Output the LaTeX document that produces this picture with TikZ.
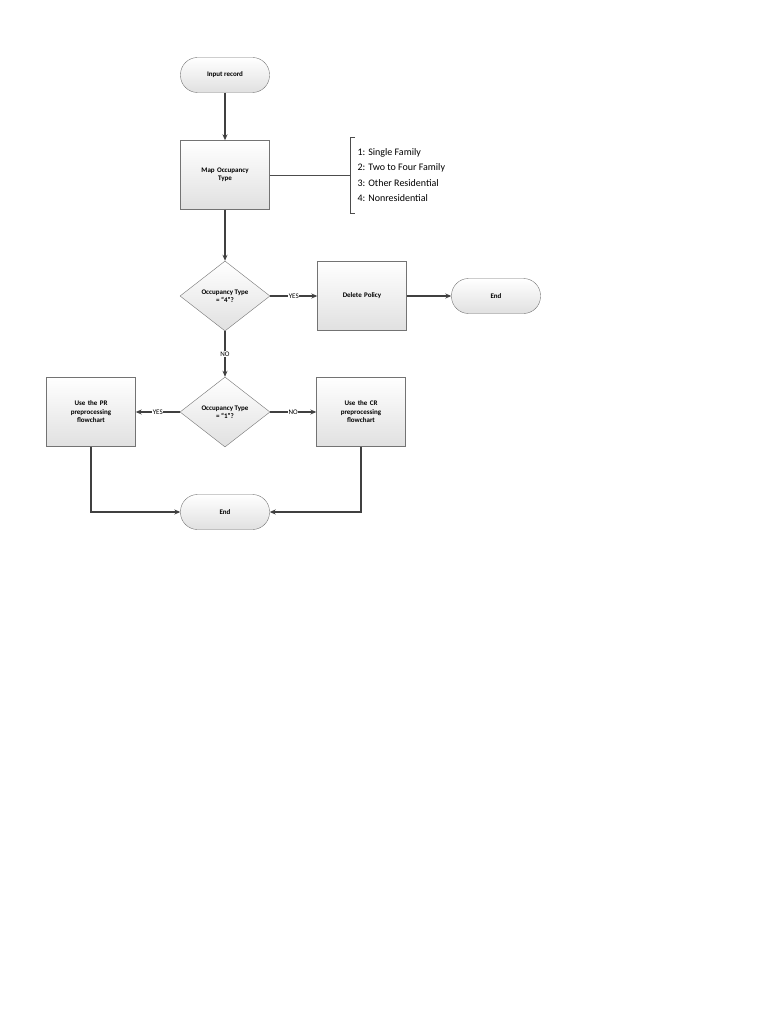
\documentclass[tikz,border=0pt]{standalone}
\usepackage{fontspec}
\setmainfont{Carlito}
\usetikzlibrary{shapes.geometric,arrows.meta}
\begin{document}
\begin{tikzpicture}[x=1pt,y=-1pt,
  base/.style={draw=black!55,top color=white,bottom color=black!12,font=\fontsize{7}{8.5}\selectfont\bfseries,align=center,inner sep=1pt},
  term/.style={base,rounded corners=17pt,minimum width=89pt,minimum height=35pt},
  proc/.style={base,minimum width=89pt,minimum height=69pt,text width=80pt},
  dec/.style={base,diamond,minimum width=90pt,minimum height=70pt,aspect=1.3},
  arr/.style={-{Stealth[length=6pt,width=5pt]},line width=1.1pt,draw=black!75},
  lbl/.style={font=\fontsize{7}{8}\selectfont,fill=white,inner sep=0.5pt}]
\useasboundingbox (0,0) rectangle (768,1024);
\node[term] (in) at (225,75) {Input record};
\node[proc] (map) at (225,175) {Map Occupancy\\Type};
\node[dec] (d1) at (225,296) {Occupancy Type\\= ``4''?};
\node[proc] (del) at (362,296) {Delete Policy};
\node[term] (end1) at (496,296) {End};
\node[dec] (d2) at (225,412) {Occupancy Type\\= ``1''?};
\node[proc] (pr) at (91,412) {Use the PR\\preprocessing\\flowchart};
\node[proc] (cr) at (361,412) {Use the CR\\preprocessing\\flowchart};
\node[term] (end2) at (225,512) {End};
\coordinate (bk) at (350,175);
\draw[black!70,line width=0.6pt] (map.east) -- (bk);
\draw[black!70,line width=0.6pt] (355,137) -- (350,137) -- (350,213) -- (355,213);
\node[anchor=west,font=\fontsize{10}{15.4}\selectfont,align=left] (leg) at (354,175) {1: Single Family\\2: Two to Four Family\\3: Other Residential\\4: Nonresidential};
\draw[arr] (in) -- (map);
\draw[arr] (map) -- (d1);
\draw[arr] (d1) -- node[lbl]{YES} (del);
\draw[arr] (del) -- (end1);
\draw[arr] (d1) -- node[lbl]{NO} (d2);
\draw[arr] (d2) -- node[lbl]{YES} (pr);
\draw[arr] (d2) -- node[lbl]{NO} (cr);
\draw[arr] (pr.south) |- (end2.west);
\draw[arr] (cr.south) |- (end2.east);
\end{tikzpicture}
\end{document}
